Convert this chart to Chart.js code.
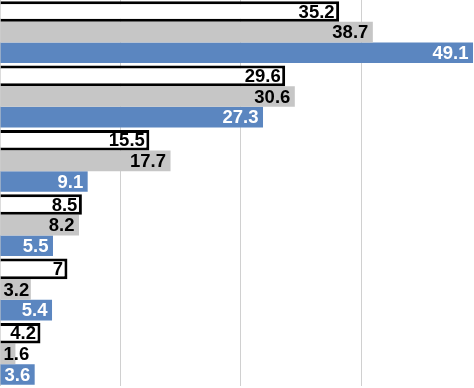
<!DOCTYPE html>
<html>
<head>
<meta charset="utf-8">
<script src="https://cdn.jsdelivr.net/npm/chart.js@4"></script>
<style>
html,body{margin:0;padding:0;background:#fff;}
#wrap{width:474px;height:388px;position:relative;}
</style>
</head>
<body>
<div id="wrap"><canvas id="c" width="474" height="388"></canvas></div>
<script>
const categories = ["1", "2", "3", "4", "5", "6"];
const seriesWhite = [35.2, 29.6, 15.5, 8.5, 7, 4.2];
const seriesGray = [38.7, 30.6, 17.7, 8.2, 3.2, 1.6];
const seriesBlue = [49.1, 27.3, 9.1, 5.5, 5.4, 3.6];
const gridTicks = [0, 12.5, 25, 37.5];

const labelPlugin = {
  id: 'endLabels',
  afterDatasetsDraw(chart) {
    const ctx = chart.ctx;
    ctx.save();
    ctx.font = 'bold 18.5px "Liberation Sans", Arial, sans-serif';
    ctx.textBaseline = 'middle';
    ctx.textAlign = 'left';
    chart.data.datasets.forEach((ds, di) => {
      const meta = chart.getDatasetMeta(di);
      meta.data.forEach((el, i) => {
        const txt = String(ds.data[i]);
        const w = ctx.measureText(txt).width;
        const left = Math.max(el.x - 4.5 - w, 3.5);
        ctx.fillStyle = ds.labelColor;
        ctx.fillText(txt, left, el.y + 1);
      });
    });
    ctx.restore();
  }
};

new Chart(document.getElementById('c'), {
  type: 'bar',
  data: {
    labels: categories,
    datasets: [
      { label: 'white', data: seriesWhite, backgroundColor: '#ffffff', borderColor: '#000000', borderWidth: 3, borderSkipped: 'left', labelColor: '#000000' },
      { label: 'gray', data: seriesGray, backgroundColor: '#c6c6c6', borderWidth: 0, labelColor: '#000000' },
      { label: 'blue', data: seriesBlue, backgroundColor: '#5b86c0', borderWidth: 0, labelColor: '#ffffff' }
    ]
  },
  plugins: [labelPlugin],
  options: {
    indexAxis: 'y',
    responsive: false,
    animation: false,
    layout: { padding: { top: 0, bottom: 2, left: 0, right: 0 } },
    plugins: { legend: { display: false }, tooltip: { enabled: false } },
    datasets: { bar: { categoryPercentage: 0.96, barPercentage: 1.0 } },
    scales: {
      x: {
        min: 0, max: 49.2,
        afterBuildTicks(scale) { scale.ticks = gridTicks.map(v => ({ value: v })); },
        ticks: { display: false },
        grid: { color: '#d0d0d0', lineWidth: 1, drawTicks: false },
        border: { display: false }
      },
      y: {
        display: false
      }
    }
  }
});
</script>
</body>
</html>
